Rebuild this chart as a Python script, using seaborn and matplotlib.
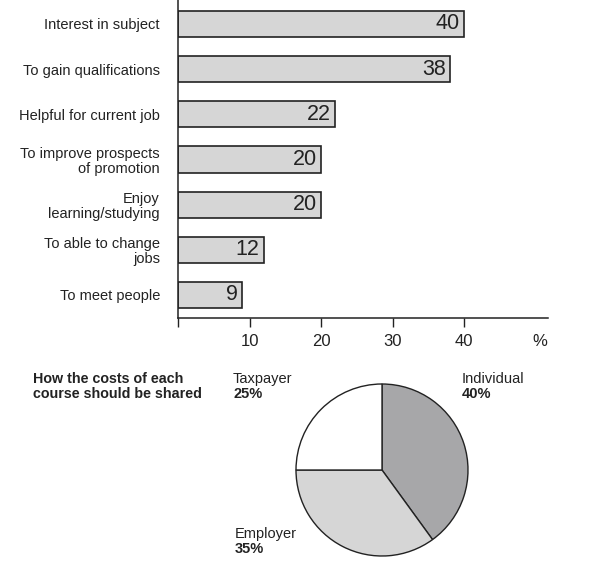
import matplotlib
matplotlib.use("Agg")
import matplotlib.pyplot as plt
import seaborn as sns
import pandas as pd

# reasons for taking a course (% of people)
reasons = ["Interest in subject", "To gain qualifications", "Helpful for current job",
           "To improve prospects\nof promotion", "Enjoy\nlearning/studying",
           "To able to change\njobs", "To meet people"]
percents = [40, 38, 22, 20, 20, 12, 9]

# how the costs of each course should be shared
payers = ["Individual", "Employer", "Taxpayer"]
shares = [40, 35, 25]
pie_colors = ["#a7a7a9", "#d6d6d6", "#ffffff"]

sns.set_style("white")
plt.rcParams["font.family"] = ["Liberation Sans", "DejaVu Sans"]

W, H = 597, 563
fig = plt.figure(figsize=(W / 100, H / 100), dpi=100)

# bar chart
ax = fig.add_axes([178 / W, 1 - 318 / H, (548 - 178) / W, 318 / H])
df = pd.DataFrame({"reason": reasons, "pct": percents})
sns.barplot(data=df, x="pct", y="reason", orient="h", color="#d6d6d6",
            saturation=1, edgecolor="#222222", linewidth=1.2, width=0.58, ax=ax)

for i, v in enumerate(percents):
    ax.annotate(str(v), (v, i), xytext=(-3, 0), textcoords="offset points",
                ha="right", va="center", fontsize=15.5, color="#222222")

ax.set_xlim(0, 51.7)
ax.set_ylim(6.51, -0.53)
ax.set_xlabel("")
ax.set_ylabel("")
ax.set_xticks([0, 10, 20, 30, 40])
ax.set_xticklabels(["", "10", "20", "30", "40"], fontsize=12, color="#222222")
ax.tick_params(axis="x", bottom=True, direction="out", length=6.5, width=1,
               color="#222222", pad=5)
ax.tick_params(axis="y", left=False, length=0, pad=13, labelsize=10.5,
               labelcolor="#222222")
for lab in ax.get_yticklabels():
    lab.set_linespacing(1.05)
sns.despine(ax=ax, top=True, right=True)
for s in ["left", "bottom"]:
    ax.spines[s].set_color("#222222")
    ax.spines[s].set_linewidth(1.1)
fig.text(540 / W, 1 - 342 / H, "%", ha="center", va="center", fontsize=12, color="#222222")

# pie chart
cx, cy, r = 382, 470, 86
pax = fig.add_axes([(cx - r) / W, 1 - (cy + r) / H, 2 * r / W, 2 * r / H])
wedges, _ = pax.pie(shares, colors=pie_colors, startangle=90, counterclock=False,
                    wedgeprops={"edgecolor": "#222222", "linewidth": 1.0})
for w in wedges:
    w.set_clip_on(False)
pax.set_xlim(-1, 1)
pax.set_ylim(-1, 1)
pax.set_aspect("auto")
pax.axis("off")

def label(x, y, name, pct):
    fig.text(x / W, 1 - y / H, name, ha="left", va="center", fontsize=10.5, color="#222222")
    fig.text(x / W, 1 - (y + 15) / H, pct, ha="left", va="center", fontsize=10.5,
             fontweight="bold", color="#222222")

fig.text(33 / W, 1 - 379 / H, "How the costs of each", ha="left", va="center",
         fontsize=10.3, fontweight="bold", color="#222222")
fig.text(33 / W, 1 - 394 / H, "course should be shared", ha="left", va="center",
         fontsize=10.3, fontweight="bold", color="#222222")
label(233, 379, "Taxpayer", "25%")
label(462, 379, "Individual", "40%")
label(235, 534, "Employer", "35%")

fig.savefig("out.png", dpi=100)
